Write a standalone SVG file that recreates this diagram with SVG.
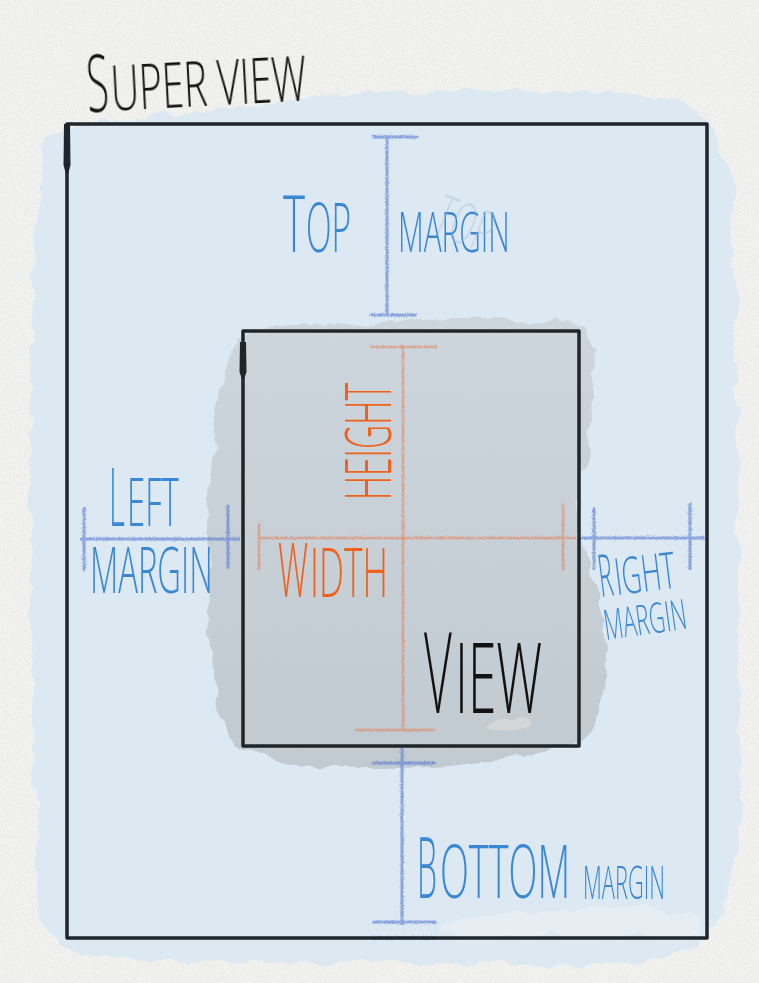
<svg xmlns="http://www.w3.org/2000/svg" width="759" height="983" viewBox="0 0 759 983">
<defs>
<style>
.hand{font-family:"Open Sans","Liberation Sans",sans-serif;font-weight:300;}
.blue{fill:#3a88d5;}
.orange{fill:#f0621c;}
.black{fill:#121212;}
.frame{fill:none;stroke:#1f262b;stroke-width:3.5;stroke-linejoin:round;}
.mblue{stroke:#5679d2;stroke-width:3;fill:none;opacity:0.6;}
.morange{stroke:#e8794a;stroke-width:2.5;fill:none;opacity:0.5;}
</style>
<filter id="paper" x="0" y="0" width="100%" height="100%">
<feTurbulence type="fractalNoise" baseFrequency="0.9" numOctaves="2" seed="3" result="n"/>
<feColorMatrix in="n" type="matrix" values="0 0 0 0 0.45  0 0 0 0 0.45  0 0 0 0 0.45  0 0 0 0.9 -0.35"/>
</filter>
<filter id="rough" x="-10%" y="-10%" width="120%" height="120%">
<feTurbulence type="fractalNoise" baseFrequency="0.035" numOctaves="3" seed="7" result="t"/>
<feDisplacementMap in="SourceGraphic" in2="t" scale="16" xChannelSelector="R" yChannelSelector="G"/>
</filter>
<filter id="pencil" x="-20%" y="-20%" width="140%" height="140%">
<feTurbulence type="fractalNoise" baseFrequency="0.9" numOctaves="2" seed="5" result="t"/>
<feDisplacementMap in="SourceGraphic" in2="t" scale="3.5" xChannelSelector="R" yChannelSelector="G" result="d"/>
<feGaussianBlur in="d" stdDeviation="0.6"/>
</filter>
<linearGradient id="gray" x1="0" y1="0" x2="0" y2="1">
<stop offset="0" stop-color="#cdd5dc"/>
<stop offset="1" stop-color="#c0c8d0"/>
</linearGradient>
</defs>

<rect width="759" height="983" fill="#f3f3f1"/>
<rect width="759" height="983" filter="url(#paper)" opacity="0.5"/>

<g id="washes">
<path filter="url(#rough)" fill="#dce8f2" d="M 45 138 C 70 125, 130 118, 200 112 C 270 106, 320 94, 420 91 C 520 88, 610 92, 665 100 C 705 106, 716 120, 720 150 L 732 190 C 740 320, 736 600, 740 760 C 744 860, 726 930, 690 950 C 640 968, 560 970, 480 962 C 380 964, 200 962, 120 957 C 62 952, 42 940, 38 900 C 30 700, 28 420, 34 260 C 37 190, 40 155, 45 138 Z"/>
<path filter="url(#rough)" fill="#eef2f5" opacity="0.6" d="M 440 930 C 480 914, 520 908, 560 912 C 610 902, 660 906, 700 916 L 704 936 L 440 936 Z"/>
<path filter="url(#rough)" fill="url(#gray)" opacity="0.95" d="M 240 335 C 270 318, 330 326, 380 322 C 440 318, 520 318, 586 322 C 596 360, 592 420, 586 460 C 576 480, 572 505, 578 532 C 592 565, 604 605, 606 650 C 607 700, 596 732, 570 746 C 520 762, 420 770, 330 766 C 270 766, 230 752, 220 720 C 208 650, 205 560, 210 480 C 212 420, 220 370, 240 335 Z"/>
<path fill="#e4e0da" opacity="0.55" d="M 486 728 C 492 720, 505 716, 512 721 C 520 714, 530 716, 532 724 C 526 731, 500 733, 486 728 Z"/>
</g>

<g id="connectors">
<g filter="url(#pencil)">
<path class="mblue" d="M 387 137 V 315 M 372 137 H 418 M 370 315 H 417"/>
<path class="mblue" d="M 80 539 H 240 M 84 507 V 571 M 228 505 V 569"/>
<path class="mblue" d="M 578 538 H 705 M 594 507 V 570 M 690 503 V 570"/>
<path class="mblue" d="M 402 748 V 925 M 372 763 H 436 M 372 922 H 437 M 372 938 H 436"/>
<path class="morange" d="M 403 345 V 730 M 370 347 H 437 M 355 730 H 435"/>
<path class="morange" d="M 258 538 H 576 M 259 523 V 570 M 563 503 V 570"/>
</g>
</g>

<g id="superview">
<rect class="frame" x="67" y="124" width="640" height="814"/>
<path d="M 64 124 L 70 124 L 70.5 165 L 67 178 L 63.5 165 Z" fill="#1f262b"/>
<g transform="translate(88,112) rotate(-3)">
<text class="hand black" transform="scale(0.5,1)" font-size="80" textLength="44" lengthAdjust="spacingAndGlyphs">S</text>
<text class="hand black" transform="translate(24,0) scale(0.62,1)" font-size="62" textLength="316" lengthAdjust="spacingAndGlyphs">UPER VIEW</text>
</g>
</g>

<g id="view">
<rect class="frame" x="243" y="331" width="336" height="415"/>
<path d="M 240 342 L 246 342 L 246.5 372 L 243 382 L 239.5 372 Z" fill="#1f262b"/>
<text class="hand black" transform="translate(424,713) scale(0.42,1)" font-size="112" textLength="66" lengthAdjust="spacingAndGlyphs">V</text>
<text class="hand black" transform="translate(455,713) scale(0.51,1)" font-size="98" textLength="171" lengthAdjust="spacingAndGlyphs">IEW</text>
</g>

<g id="top-margin">
<text class="hand blue" transform="translate(283,252) scale(0.5,1)" font-size="80" textLength="44" lengthAdjust="spacingAndGlyphs">T</text>
<text class="hand blue" transform="translate(306,252) scale(0.47,1)" font-size="69" textLength="96" lengthAdjust="spacingAndGlyphs">OP</text>
<text class="hand blue" transform="translate(398,252) scale(0.52,1)" font-size="55" textLength="215" lengthAdjust="spacingAndGlyphs">MARGIN</text>
<text class="hand" fill="#9fb9d6" opacity="0.35" transform="translate(430,232) rotate(22) scale(0.52,1)" font-size="58" textLength="112" lengthAdjust="spacingAndGlyphs">TOP</text>
</g>

<g id="left-margin">
<text class="hand blue" transform="translate(109,526) scale(0.37,1)" font-size="82" textLength="43" lengthAdjust="spacingAndGlyphs">L</text>
<text class="hand blue" transform="translate(127,526) scale(0.48,1)" font-size="67" textLength="108" lengthAdjust="spacingAndGlyphs">EFT</text>
<text class="hand blue" transform="translate(90,593) scale(0.48,1)" font-size="65" textLength="256" lengthAdjust="spacingAndGlyphs">MARGIN</text>
</g>

<g id="right-margin">
<g transform="translate(601,597) rotate(-7)">
<text class="hand blue" transform="scale(0.39,1)" font-size="59" textLength="36" lengthAdjust="spacingAndGlyphs">R</text>
<text class="hand blue" transform="translate(16,0) scale(0.52,1)" font-size="51" textLength="117" lengthAdjust="spacingAndGlyphs">IGHT</text>
</g>
<text class="hand blue" transform="translate(606,640) rotate(-8) scale(0.5,1)" font-size="42" textLength="166" lengthAdjust="spacingAndGlyphs">MARGIN</text>
</g>

<g id="bottom-margin">
<text class="hand blue" transform="translate(417,898) scale(0.37,1)" font-size="84" textLength="54" lengthAdjust="spacingAndGlyphs">B</text>
<text class="hand blue" transform="translate(440,898) scale(0.5,1)" font-size="73" textLength="260" lengthAdjust="spacingAndGlyphs">OTTOM</text>
<text class="hand blue" transform="translate(583,899) scale(0.45,1)" font-size="46" textLength="182" lengthAdjust="spacingAndGlyphs">MARGIN</text>
</g>

<g id="height">
<text class="hand orange" transform="translate(391,500) rotate(-90) scale(0.5,1)" font-size="65" textLength="234" lengthAdjust="spacingAndGlyphs">HEIGHT</text>
</g>

<g id="width">
<text class="hand orange" transform="translate(278,597) scale(0.43,1)" font-size="75" textLength="70" lengthAdjust="spacingAndGlyphs">W</text>
<text class="hand orange" transform="translate(310,597) scale(0.49,1)" font-size="69" textLength="159" lengthAdjust="spacingAndGlyphs">IDTH</text>
</g>
</svg>
